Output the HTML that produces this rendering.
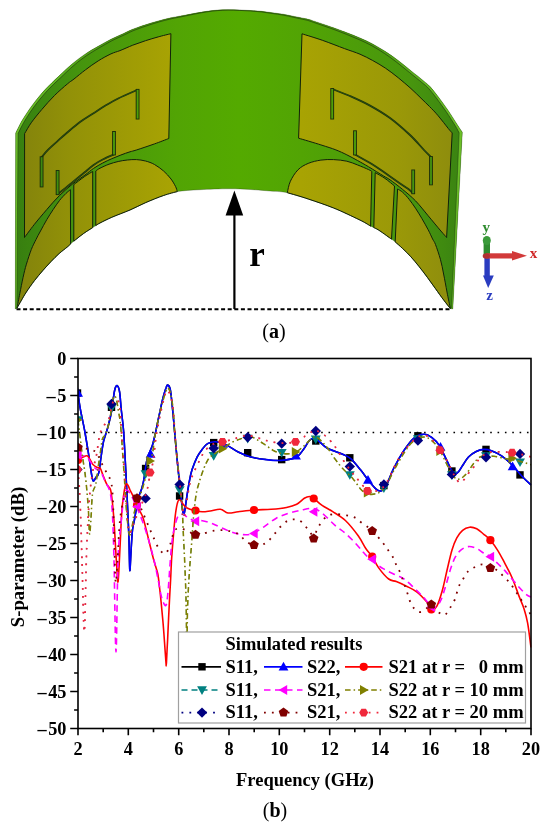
<!DOCTYPE html>
<html><head><meta charset="utf-8"><title>Figure</title>
<style>
html,body{margin:0;padding:0;background:#fff;}
body{width:550px;height:830px;overflow:hidden;font-family:"Liberation Serif",serif;}
svg{display:block;}
text{font-family:"Liberation Serif",serif;}
.b{font-weight:bold;}
</style></head><body>
<svg width="550" height="830" viewBox="0 0 550 830">
<defs>
<linearGradient id="gG" gradientUnits="userSpaceOnUse" x1="16" y1="0" x2="462" y2="0"><stop offset="0" stop-color="#377e10"/><stop offset="0.06" stop-color="#3d890f"/><stop offset="0.14" stop-color="#45940e"/><stop offset="0.36" stop-color="#52a404"/><stop offset="0.5" stop-color="#54aa00"/><stop offset="0.64" stop-color="#52a404"/><stop offset="0.88" stop-color="#48960e"/><stop offset="0.96" stop-color="#3f8a10"/><stop offset="1" stop-color="#3a8212"/></linearGradient>
<linearGradient id="gY" gradientUnits="userSpaceOnUse" x1="16" y1="0" x2="462" y2="0"><stop offset="0" stop-color="#82820c"/><stop offset="0.12" stop-color="#929108"/><stop offset="0.35" stop-color="#a8a303"/><stop offset="0.64" stop-color="#a8a303"/><stop offset="0.86" stop-color="#9a9808"/><stop offset="1" stop-color="#8c8b0e"/></linearGradient>
<linearGradient id="gR" gradientUnits="userSpaceOnUse" x1="16" y1="0" x2="462" y2="0"><stop offset="0" stop-color="#6cc028"/><stop offset="0.1" stop-color="#5eb220"/><stop offset="0.22" stop-color="#4b9812"/><stop offset="0.8" stop-color="#4b9812"/><stop offset="0.9" stop-color="#5eb220"/><stop offset="1" stop-color="#6cc028"/></linearGradient>
</defs>
<g id="antenna" stroke-linejoin="round">
<path d="M15.7 133 C16.9 130.8 19.8 124.4 22.7 119.6 C25.6 114.8 29.1 109.5 32.9 104.4 C36.7 99.3 41.4 93.7 45.6 89.1 C49.9 84.5 53.9 80.9 58.4 76.6 C62.9 72.3 68.2 67.3 72.7 63.5 C77.2 59.7 81.2 56.8 85.5 53.9 C89.8 51 94 48.7 98.2 46.3 C102.4 43.9 106.7 41.4 110.9 39.3 C115.1 37.2 120 35.2 123.6 33.5 C127.2 31.8 129 30.8 132.7 29.3 C136.3 27.9 141.2 26.2 145.5 24.8 C149.8 23.4 154 22.2 158.2 21 C162.4 19.8 166.4 18.8 170.9 17.8 C175.4 16.8 180.8 16 185 15.2 C189.2 14.4 192.3 13.8 195.9 13.1 C199.5 12.4 203.2 11.8 206.8 11.3 C210.4 10.8 214.2 10.3 217.7 10.1 C221.2 9.8 224.4 9.8 228 9.8 C231.6 9.8 235.8 9.9 239.5 10 C243.2 10.1 246.8 10.3 250.5 10.5 C254.2 10.7 257.8 10.9 261.4 11.3 C265 11.7 268.7 12.2 272.3 12.7 C275.9 13.2 279.6 13.6 283.2 14.2 C286.8 14.8 290.5 15.7 294.1 16.4 C297.7 17.1 302.1 17.9 305 18.6 C307.9 19.3 307 18.9 311.8 20.4 C316.6 21.9 327.7 25.7 333.6 27.8 C339.5 29.9 342.6 31.1 347 32.8 C351.4 34.5 355.7 36.1 360 38 C364.3 39.9 368.4 41.7 372.7 44 C376.9 46.3 381.2 48.9 385.5 51.6 C389.8 54.4 394 57.3 398.2 60.5 C402.4 63.7 406.7 67.3 410.9 70.7 C415.1 74.1 420.4 78.2 423.6 80.9 C426.8 83.6 427.6 84 430 86.6 C432.4 89.2 435.1 92.7 438.2 96.7 C441.2 100.7 445.1 106 448.3 110.7 C451.5 115.4 455 121.1 457.3 124.7 C459.6 128.3 461.5 131 462.3 132.3 L452.8 308.9 L450.4 308.6 C449.3 307.2 446.3 303.5 443.8 300.2 C441.3 296.9 438.2 292.5 435.5 288.7 C432.8 284.9 430 281 427.3 277.3 C424.6 273.6 421.8 270 419.1 266.6 C416.4 263.2 413.6 259.8 410.9 256.8 C408.2 253.8 405.4 251.2 402.7 248.6 C400 246 397.2 243.5 394.5 241.3 C391.8 239.1 389.1 237.4 386.4 235.5 C383.7 233.6 380.9 231.4 378.2 229.8 C375.5 228.2 373.2 227.4 370 225.7 C366.8 224 365.1 222.5 359 219.6 C352.9 216.7 342.1 211.4 333.6 208 C325.1 204.6 315.9 201.6 308.2 199 C300.5 196.4 293.7 194 287.3 192.7 C280.9 191.4 278.7 191.7 270 191 C261.3 190.3 246.7 189 235 188.8 C223.3 188.6 209.6 189.2 200 189.7 C190.4 190.2 183.4 190.6 177.3 191.6 C171.2 192.6 168.9 193.7 163.6 195.5 C158.3 197.3 151.1 200.3 145.5 202.7 C139.9 205.1 135.6 207.6 130 210 C124.4 212.4 116.8 215.1 111.8 217.3 C106.8 219.5 102.8 221.6 100 223 C97.2 224.4 97.8 224.2 95.1 226 C92.4 227.8 87.4 230.8 83.6 233.5 C79.8 236.2 74.9 240.2 72.2 242.5 C69.5 244.8 69.5 245.2 67.3 247 C65.1 248.8 61.8 251.2 59.1 253.6 C56.4 256.1 53.6 258.8 50.9 261.7 C48.2 264.6 45.4 267.5 42.7 270.7 C40 273.9 37.2 277.1 34.5 280.6 C31.8 284.2 28.6 288.7 26.4 292 C24.2 295.3 23 297.6 21.5 300.2 C20 302.8 17.9 306.5 17.2 307.8 L15.3 308.9 Z" fill="url(#gG)"/>
<path d="M15.7 133 C16.9 130.8 19.8 124.4 22.7 119.6 C25.6 114.8 29.1 109.5 32.9 104.4 C36.7 99.3 41.4 93.7 45.6 89.1 C49.9 84.5 53.9 80.9 58.4 76.6 C62.9 72.3 68.2 67.3 72.7 63.5 C77.2 59.7 81.2 56.8 85.5 53.9 C89.8 51 94 48.7 98.2 46.3 C102.4 43.9 106.7 41.4 110.9 39.3 C115.1 37.2 120 35.2 123.6 33.5 C127.2 31.8 129 30.8 132.7 29.3 C136.3 27.9 141.2 26.2 145.5 24.8 C149.8 23.4 154 22.2 158.2 21 C162.4 19.8 166.4 18.8 170.9 17.8 C175.4 16.8 180.8 16 185 15.2 C189.2 14.4 192.3 13.8 195.9 13.1 C199.5 12.4 203.2 11.8 206.8 11.3 C210.4 10.8 214.2 10.3 217.7 10.1 C221.2 9.8 224.4 9.8 228 9.8 C231.6 9.8 235.8 9.9 239.5 10 C243.2 10.1 246.8 10.3 250.5 10.5 C254.2 10.7 257.8 10.9 261.4 11.3 C265 11.7 268.7 12.2 272.3 12.7 C275.9 13.2 279.6 13.6 283.2 14.2 C286.8 14.8 290.5 15.7 294.1 16.4 C297.7 17.1 302.1 17.9 305 18.6 C307.9 19.3 307 18.9 311.8 20.4 C316.6 21.9 327.7 25.7 333.6 27.8 C339.5 29.9 342.6 31.1 347 32.8 C351.4 34.5 355.7 36.1 360 38 C364.3 39.9 368.4 41.7 372.7 44 C376.9 46.3 381.2 48.9 385.5 51.6 C389.8 54.4 394 57.3 398.2 60.5 C402.4 63.7 406.7 67.3 410.9 70.7 C415.1 74.1 420.4 78.2 423.6 80.9 C426.8 83.6 427.6 84 430 86.6 C432.4 89.2 435.1 92.7 438.2 96.7 C441.2 100.7 445.1 106 448.3 110.7 C451.5 115.4 455 121.1 457.3 124.7 C459.6 128.3 461.5 131 462.3 132.3 L452.8 308.9 L451.6 308.9 L459.2 133 C458.6 131.8 457.5 129.5 455.4 126 C453.2 122.5 449.6 116.6 446.4 112 C443.2 107.4 439.4 102.1 436.4 98.1 C433.4 94.1 430.7 90.7 428.3 88.2 C425.9 85.6 425.3 85.3 422.1 82.7 C419 80.1 413.7 75.9 409.5 72.5 C405.2 69.1 401 65.5 396.8 62.3 C392.7 59.1 388.5 56.1 384.4 53.4 C380.2 50.6 376 48 371.8 45.7 C367.6 43.4 363.5 41.6 359.3 39.7 C355 37.8 350.8 36.1 346.4 34.3 C342 32.6 338.9 31.3 333.1 29.2 C327.3 27.1 316.1 23.2 311.4 21.6 C306.7 20 307.7 20.4 304.7 19.7 C301.8 19 297.5 18.2 293.9 17.4 C290.3 16.6 286.7 15.7 283 15.1 C279.4 14.4 275.8 14 272.2 13.5 C268.6 12.9 265 12.4 261.3 11.9 C257.7 11.5 254.1 11.3 250.5 11 C246.8 10.8 243.2 10.5 239.5 10.4 C235.7 10.2 231.6 10.1 228 10.1 C224.4 10.2 221.3 10.3 217.7 10.6 C214.2 10.9 210.5 11.3 206.9 11.9 C203.3 12.4 199.6 13.1 196 13.8 C192.4 14.5 189.3 15.2 185.2 16 C181 16.9 175.6 17.8 171.1 18.8 C166.7 19.8 162.7 20.9 158.5 22.1 C154.3 23.3 150.1 24.6 145.9 26.1 C141.7 27.5 136.9 29.2 133.2 30.7 C129.6 32.1 127.9 33.2 124.3 34.9 C120.7 36.6 115.9 38.7 111.7 40.8 C107.5 43 103.3 45.5 99.1 47.9 C95 50.4 90.8 52.7 86.6 55.6 C82.5 58.5 78.5 61.4 74.1 65.2 C69.7 68.9 64.4 74 60 78.3 C55.5 82.5 51.5 86.1 47.3 90.7 C43.1 95.2 38.5 100.8 34.7 105.8 C31 110.8 27.5 116.1 24.7 120.8 C21.9 125.4 19.1 131.5 18 133.6 L16.8 308.9 L15.3 308.9 Z" fill="url(#gR)"/>
<path d="M18 133.6 C19.1 131.5 21.9 125.4 24.7 120.8 C27.5 116.1 31 110.8 34.7 105.8 C38.5 100.8 43.1 95.2 47.3 90.7 C51.5 86.1 55.5 82.5 60 78.3 C64.4 74 69.7 68.9 74.1 65.2 C78.5 61.4 82.5 58.5 86.6 55.6 C90.8 52.7 95 50.4 99.1 47.9 C103.3 45.5 107.5 43 111.7 40.8 C115.9 38.7 120.7 36.6 124.3 34.9 C127.9 33.2 129.6 32.1 133.2 30.7 C136.9 29.2 141.7 27.5 145.9 26.1 C150.1 24.6 154.3 23.3 158.5 22.1 C162.7 20.9 166.7 19.8 171.1 18.8 C175.6 17.8 181 16.9 185.2 16 C189.3 15.2 192.4 14.5 196 13.8 C199.6 13.1 203.3 12.4 206.9 11.9 C210.5 11.3 214.2 10.9 217.7 10.6 C221.3 10.3 224.4 10.2 228 10.1 C231.6 10.1 235.7 10.2 239.5 10.4 C243.2 10.5 246.8 10.8 250.5 11 C254.1 11.3 257.7 11.5 261.3 11.9 C265 12.4 268.6 12.9 272.2 13.5 C275.8 14 279.4 14.4 283 15.1 C286.7 15.7 290.3 16.6 293.9 17.4 C297.5 18.2 301.8 19 304.7 19.7 C307.7 20.4 306.7 20 311.4 21.6 C316.1 23.2 327.3 27.1 333.1 29.2 C338.9 31.3 342 32.6 346.4 34.3 C350.8 36.1 355 37.8 359.3 39.7 C363.5 41.6 367.6 43.4 371.8 45.7 C376 48 380.2 50.6 384.4 53.4 C388.5 56.1 392.7 59.1 396.8 62.3 C401 65.5 405.2 69.1 409.5 72.5 C413.7 75.9 419 80.1 422.1 82.7 C425.3 85.3 425.9 85.6 428.3 88.2 C430.7 90.7 433.4 94.1 436.4 98.1 C439.4 102.1 443.2 107.4 446.4 112 C449.6 116.6 453.2 122.5 455.4 126 C457.5 129.5 458.6 131.8 459.2 133" fill="none" stroke="#11220a" stroke-width="0.7" opacity="0.75"/>
<path d="M18 133.6 L16.8 308" fill="none" stroke="#11220a" stroke-width="0.6" opacity="0.6"/>
<path d="M459.2 133 L451.6 308" fill="none" stroke="#11220a" stroke-width="0.6" opacity="0.6"/>
<path d="M24.6 133.6 C25.8 131.7 28.7 126.2 31.6 122.2 C34.5 118.2 38 114 41.8 109.5 C45.6 105 50.2 99.8 54.5 95.5 C58.8 91.2 64 86.8 67.3 84 C70.5 81.2 71 81.4 74 79 C77 76.6 81.5 72.8 85.5 69.8 C89.5 66.8 94 63.5 98.2 60.9 C102.4 58.2 107.3 55.6 110.9 53.9 C114.5 52.2 116.4 52 120 50.6 C123.6 49.2 128.4 46.9 132.7 45.2 C136.9 43.6 141.2 42.1 145.5 40.7 C149.8 39.3 154 38.1 158.2 36.9 C162.4 35.7 168.8 34.2 170.9 33.7 L168.8 138.5 C166.4 139.4 159.9 142 154.5 143.9 C149.1 145.8 140.5 148.7 136.4 150 C132.3 151.3 132.6 151 130 151.8 C127.4 152.6 123.9 153.8 120.9 155 C117.9 156.2 114.8 157.4 111.8 158.7 C108.8 160 105.7 161.4 102.7 163 C99.7 164.6 96.5 166.4 93.6 168.4 C90.6 170.4 88.5 172.4 85 175 C81.5 177.6 76.5 180.8 72.3 184.2 C68 187.6 63.8 191.3 59.5 195.5 C55.2 199.7 51 204.6 46.8 209.5 C42.6 214.4 37.8 220 34.1 224.7 C30.4 229.4 26.1 235.4 24.5 237.5 Z" fill="url(#gY)" stroke="#11220a" stroke-width="1"/>
<path d="M302 33.8 C305.4 34.9 315.6 37.9 322.7 40.4 C329.8 42.9 338.3 46.3 344.5 48.6 C350.7 50.9 355.3 52.2 360 54.2 C364.7 56.2 368.4 58.2 372.7 60.5 C376.9 62.8 381.2 65.3 385.5 68.2 C389.8 71.1 394 74.3 398.2 77.7 C402.4 81.1 407.1 85.1 410.9 88.5 C414.7 91.9 417.9 95.2 421 98.2 C424.1 101.2 426.6 103.6 429.5 106.5 C432.4 109.4 435.1 112.1 438.2 115.8 C441.3 119.5 446 125.6 448.3 128.5 C450.6 131.4 451.6 132.2 452.2 133 L446.6 237.5 C445.7 236.4 444 234.6 440.9 231 C437.8 227.4 432.4 220.8 428.2 215.8 C424 210.8 419.8 205.2 415.5 200.8 C411.2 196.4 406.9 193 402.7 189.5 C398.4 186 393.2 182.1 390 179.8 C386.8 177.6 387.2 178.2 383.6 176 C380 173.8 372.9 169.4 368.6 166.8 C364.3 164.2 361.3 162.6 357.7 160.6 C354.1 158.6 350.4 156.6 346.8 154.8 C343.2 153 340.2 151.6 335.9 149.9 C331.6 148.2 327.1 146.9 320.9 144.9 C314.7 142.9 302.3 139.3 298.6 138.2 Z" fill="url(#gY)" stroke="#11220a" stroke-width="1"/>
<path d="M17.2 307.8 C17.6 305.4 18.8 298.7 19.8 293.6 C20.8 288.5 22 282.2 23.1 277.3 C24.2 272.4 25 268.8 26.4 264.2 C27.8 259.6 29.7 253.6 31.3 249.5 C32.9 245.4 34.5 242.6 36 239.5 C37.5 236.4 38.7 234.3 40.5 231 C42.3 227.7 44.7 223.2 46.8 219.6 C48.9 216 51.1 212.7 53.2 209.5 C55.3 206.3 57.4 203.2 59.5 200.5 C61.6 197.8 64.1 195.3 65.9 193.5 C67.7 191.7 69.7 190.3 70.4 189.7 L70.6 244 C70 244.5 69.2 245.4 67.3 247 C65.4 248.6 61.8 251.2 59.1 253.6 C56.4 256.1 53.6 258.8 50.9 261.7 C48.2 264.6 45.4 267.5 42.7 270.7 C40 273.9 37.2 277.1 34.5 280.6 C31.8 284.2 28.6 288.7 26.4 292 C24.2 295.3 23 297.6 21.5 300.2 C20 302.8 17.9 306.5 17.2 307.8 Z" fill="url(#gY)" stroke="#11220a" stroke-width="1"/>
<path d="M73.8 184.6 C75.6 183.3 81.3 178.8 84.5 176.6 C87.7 174.4 91.3 172.3 92.7 171.5 L92.7 227.6 C91.2 228.6 86.8 231.2 83.6 233.5 C80.4 235.8 75.4 239.9 73.8 241.2 Z" fill="url(#gY)" stroke="#11220a" stroke-width="1"/>
<path d="M95.8 171 C96.5 170.5 97.8 169.3 100 168.2 C102.2 167.1 106 165.3 109 164.2 C112 163.1 115.2 162.2 118.2 161.5 C121.2 160.8 124.3 160.3 127.3 160 C130.3 159.7 133.4 159.4 136.4 159.6 C139.4 159.8 142.5 160.2 145.5 161 C148.5 161.8 151.5 162.8 154.5 164.5 C157.5 166.2 160.8 168.6 163.6 171 C166.3 173.4 169 176.4 171 179 C173 181.6 174.4 184.3 175.5 186.4 C176.6 188.5 177 190.7 177.3 191.6 C175 192.2 168.9 193.7 163.6 195.5 C158.3 197.3 151.1 200.3 145.5 202.7 C139.9 205.1 135.6 207.6 130 210 C124.4 212.4 116.8 215.1 111.8 217.3 C106.8 219.5 102.7 221.6 100 223 C97.3 224.4 96.5 225.1 95.8 225.6 Z" fill="url(#gY)" stroke="#11220a" stroke-width="1"/>
<path d="M287.3 192.7 C287.8 190.8 288.6 185 290.4 181.2 C292.2 177.4 295 172.8 298 169.8 C301 166.8 304.4 165 308.2 163.4 C312 161.8 316.7 160.7 320.9 160.1 C325.1 159.5 329.3 159.4 333.6 159.6 C337.9 159.8 342.8 160.3 346.8 161.2 C350.8 162.1 354.1 163.6 357.7 165 C361.3 166.4 366.2 168.5 368.6 169.6 C371 170.7 371.3 171.1 371.8 171.4 L370.6 226 C370.5 225.9 371.9 226.8 370 225.7 C368.1 224.6 365.1 222.5 359 219.6 C352.9 216.7 342.1 211.4 333.6 208 C325.1 204.6 315.9 201.6 308.2 199 C300.5 196.4 290.8 193.8 287.3 192.7 Z" fill="url(#gY)" stroke="#11220a" stroke-width="1"/>
<path d="M375.2 172.6 C376.8 173.6 381.8 176.2 385 178.4 C388.2 180.6 392.9 184.7 394.5 186 L391.5 239.2 C390.6 238.5 388.6 237.1 386.4 235.5 C384.2 233.9 380.3 231.1 378.2 229.8 C376.1 228.5 374.5 228 373.8 227.6 Z" fill="url(#gY)" stroke="#11220a" stroke-width="1"/>
<path d="M397.6 189 C398.5 189.6 400.8 190.6 402.7 192.3 C404.6 194 407 196.7 409.1 199.3 C411.2 202 413.4 205 415.5 208.2 C417.6 211.4 419.7 214.8 421.8 218.4 C423.9 222 426.4 226.4 428.2 229.8 C430 233.2 431.4 236.6 432.6 239 C433.8 241.4 434.2 241.1 435.5 244.5 C436.8 247.9 439 254.4 440.4 259.3 C441.8 264.2 442.5 268.6 443.6 274 C444.7 279.4 445.9 286.2 447 292 C448.1 297.8 449.8 305.8 450.4 308.6 C449.3 307.2 446.3 303.5 443.8 300.2 C441.3 296.9 438.2 292.5 435.5 288.7 C432.8 284.9 430 281 427.3 277.3 C424.6 273.6 421.8 270 419.1 266.6 C416.4 263.2 413.6 259.8 410.9 256.8 C408.2 253.8 405.3 251.1 402.7 248.6 C400.1 246.1 396.4 243 395.2 241.9 L397.6 189 Z" fill="url(#gY)" stroke="#11220a" stroke-width="1"/>
<path d="M137.6 89.8 C134.4 91.2 123.5 95.9 118.2 98.5 C112.9 101.1 109.8 103 105.5 105.5 C101.2 108 97 111 92.7 113.7 C88.5 116.5 84.4 118.8 80 122 C75.6 125.2 70.2 130 66.4 133.2 C62.6 136.4 60.3 138.6 57.3 141.3 C54.3 144.1 50.8 147 48.2 149.7 C45.6 152.3 42.7 155.9 41.6 157.2" fill="none" stroke="#1c300c" stroke-width="1.8"/>
<path d="M137.6 89.8 C134.4 91.2 123.5 95.9 118.2 98.5 C112.9 101.1 109.8 103 105.5 105.5 C101.2 108 97 111 92.7 113.7 C88.5 116.5 84.4 118.8 80 122 C75.6 125.2 70.2 130 66.4 133.2 C62.6 136.4 60.3 138.6 57.3 141.3 C54.3 144.1 50.8 147 48.2 149.7 C45.6 152.3 42.7 155.9 41.6 157.2" fill="none" stroke="#3a7012" stroke-width="0.45"/>
<path d="M137.6 88.9 V119.5" fill="none" stroke="#1a2e0a" stroke-width="3.8"/>
<path d="M137.6 89.8 V118.6" fill="none" stroke="url(#gG)" stroke-width="1.9"/>
<path d="M41.6 156.3 V187.4" fill="none" stroke="#1a2e0a" stroke-width="3.8"/>
<path d="M41.6 157.2 V186.5" fill="none" stroke="url(#gG)" stroke-width="1.9"/>
<path d="M114 154.5 C112.1 155.3 106.1 157.8 102.7 159.5 C99.3 161.2 96.5 162.9 93.6 165 C90.6 167.1 87.5 169.9 85 172 C82.5 174.1 80.7 175.6 78.6 177.3 C76.5 179.1 74.4 180.8 72.3 182.5 C70.2 184.2 68.4 185.7 65.9 187.6 C63.5 189.5 59 193.1 57.6 194.2" fill="none" stroke="#1c300c" stroke-width="1.8"/>
<path d="M114 154.5 C112.1 155.3 106.1 157.8 102.7 159.5 C99.3 161.2 96.5 162.9 93.6 165 C90.6 167.1 87.5 169.9 85 172 C82.5 174.1 80.7 175.6 78.6 177.3 C76.5 179.1 74.4 180.8 72.3 182.5 C70.2 184.2 68.4 185.7 65.9 187.6 C63.5 189.5 59 193.1 57.6 194.2" fill="none" stroke="#3a7012" stroke-width="0.45"/>
<path d="M114 155.4 V131" fill="none" stroke="#1a2e0a" stroke-width="3.8"/>
<path d="M114 154.5 V131.9" fill="none" stroke="url(#gG)" stroke-width="1.9"/>
<path d="M57.6 195.1 V170" fill="none" stroke="#1a2e0a" stroke-width="3.8"/>
<path d="M57.6 194.2 V170.9" fill="none" stroke="url(#gG)" stroke-width="1.9"/>
<path d="M332.2 89 C335.2 90.2 343.7 93.2 350 96 C356.3 98.8 363.3 101.9 370 105.6 C376.7 109.3 383.3 113.1 390 118 C396.7 122.9 404.3 129.7 410 135 C415.7 140.3 420.5 146.3 424 150 C427.5 153.7 429.8 155.8 431 157" fill="none" stroke="#1c300c" stroke-width="1.8"/>
<path d="M332.2 89 C335.2 90.2 343.7 93.2 350 96 C356.3 98.8 363.3 101.9 370 105.6 C376.7 109.3 383.3 113.1 390 118 C396.7 122.9 404.3 129.7 410 135 C415.7 140.3 420.5 146.3 424 150 C427.5 153.7 429.8 155.8 431 157" fill="none" stroke="#3a7012" stroke-width="0.45"/>
<path d="M332.2 88.1 V119.5" fill="none" stroke="#1a2e0a" stroke-width="3.8"/>
<path d="M332.2 89 V118.6" fill="none" stroke="url(#gG)" stroke-width="1.9"/>
<path d="M431 156.1 V185.3" fill="none" stroke="#1a2e0a" stroke-width="3.8"/>
<path d="M431 157 V184.4" fill="none" stroke="url(#gG)" stroke-width="1.9"/>
<path d="M355 154.5 C357.8 156.1 366.9 161 371.8 164 C376.7 167 380.3 169.7 384.5 172.6 C388.7 175.5 393.3 178.8 397.2 181.5 C401.1 184.2 405.3 186.8 408 188.8 C410.7 190.8 412.3 192.6 413.2 193.3" fill="none" stroke="#1c300c" stroke-width="1.8"/>
<path d="M355 154.5 C357.8 156.1 366.9 161 371.8 164 C376.7 167 380.3 169.7 384.5 172.6 C388.7 175.5 393.3 178.8 397.2 181.5 C401.1 184.2 405.3 186.8 408 188.8 C410.7 190.8 412.3 192.6 413.2 193.3" fill="none" stroke="#3a7012" stroke-width="0.45"/>
<path d="M355 155.4 V130.3" fill="none" stroke="#1a2e0a" stroke-width="3.8"/>
<path d="M355 154.5 V131.2" fill="none" stroke="url(#gG)" stroke-width="1.9"/>
<path d="M413.2 194.2 V169.5" fill="none" stroke="#1a2e0a" stroke-width="3.8"/>
<path d="M413.2 193.3 V170.4" fill="none" stroke="url(#gG)" stroke-width="1.9"/>
<path d="M15.7 133 C16.9 130.8 19.8 124.4 22.7 119.6 C25.6 114.8 29.1 109.5 32.9 104.4 C36.7 99.3 41.4 93.7 45.6 89.1 C49.9 84.5 53.9 80.9 58.4 76.6 C62.9 72.3 68.2 67.3 72.7 63.5 C77.2 59.7 81.2 56.8 85.5 53.9 C89.8 51 94 48.7 98.2 46.3 C102.4 43.9 106.7 41.4 110.9 39.3 C115.1 37.2 120 35.2 123.6 33.5 C127.2 31.8 129 30.8 132.7 29.3 C136.3 27.9 141.2 26.2 145.5 24.8 C149.8 23.4 154 22.2 158.2 21 C162.4 19.8 166.4 18.8 170.9 17.8 C175.4 16.8 180.8 16 185 15.2 C189.2 14.4 192.3 13.8 195.9 13.1 C199.5 12.4 203.2 11.8 206.8 11.3 C210.4 10.8 214.2 10.3 217.7 10.1 C221.2 9.8 224.4 9.8 228 9.8 C231.6 9.8 235.8 9.9 239.5 10 C243.2 10.1 246.8 10.3 250.5 10.5 C254.2 10.7 257.8 10.9 261.4 11.3 C265 11.7 268.7 12.2 272.3 12.7 C275.9 13.2 279.6 13.6 283.2 14.2 C286.8 14.8 290.5 15.7 294.1 16.4 C297.7 17.1 302.1 17.9 305 18.6 C307.9 19.3 307 18.9 311.8 20.4 C316.6 21.9 327.7 25.7 333.6 27.8 C339.5 29.9 342.6 31.1 347 32.8 C351.4 34.5 355.7 36.1 360 38 C364.3 39.9 368.4 41.7 372.7 44 C376.9 46.3 381.2 48.9 385.5 51.6 C389.8 54.4 394 57.3 398.2 60.5 C402.4 63.7 406.7 67.3 410.9 70.7 C415.1 74.1 420.4 78.2 423.6 80.9 C426.8 83.6 427.6 84 430 86.6 C432.4 89.2 435.1 92.7 438.2 96.7 C441.2 100.7 445.1 106 448.3 110.7 C451.5 115.4 455 121.1 457.3 124.7 C459.6 128.3 461.5 131 462.3 132.3 L452.8 308.9 L450.4 308.6 C449.3 307.2 446.3 303.5 443.8 300.2 C441.3 296.9 438.2 292.5 435.5 288.7 C432.8 284.9 430 281 427.3 277.3 C424.6 273.6 421.8 270 419.1 266.6 C416.4 263.2 413.6 259.8 410.9 256.8 C408.2 253.8 405.4 251.2 402.7 248.6 C400 246 397.2 243.5 394.5 241.3 C391.8 239.1 389.1 237.4 386.4 235.5 C383.7 233.6 380.9 231.4 378.2 229.8 C375.5 228.2 373.2 227.4 370 225.7 C366.8 224 365.1 222.5 359 219.6 C352.9 216.7 342.1 211.4 333.6 208 C325.1 204.6 315.9 201.6 308.2 199 C300.5 196.4 293.7 194 287.3 192.7 C280.9 191.4 278.7 191.7 270 191 C261.3 190.3 246.7 189 235 188.8 C223.3 188.6 209.6 189.2 200 189.7 C190.4 190.2 183.4 190.6 177.3 191.6 C171.2 192.6 168.9 193.7 163.6 195.5 C158.3 197.3 151.1 200.3 145.5 202.7 C139.9 205.1 135.6 207.6 130 210 C124.4 212.4 116.8 215.1 111.8 217.3 C106.8 219.5 102.8 221.6 100 223 C97.2 224.4 97.8 224.2 95.1 226 C92.4 227.8 87.4 230.8 83.6 233.5 C79.8 236.2 74.9 240.2 72.2 242.5 C69.5 244.8 69.5 245.2 67.3 247 C65.1 248.8 61.8 251.2 59.1 253.6 C56.4 256.1 53.6 258.8 50.9 261.7 C48.2 264.6 45.4 267.5 42.7 270.7 C40 273.9 37.2 277.1 34.5 280.6 C31.8 284.2 28.6 288.7 26.4 292 C24.2 295.3 23 297.6 21.5 300.2 C20 302.8 17.9 306.5 17.2 307.8 L15.3 308.9 Z" fill="none" stroke="#11220a" stroke-width="0.5" opacity="0.55"/>
</g>
<line x1="16.5" y1="309.3" x2="452" y2="309.3" stroke="#000" stroke-width="2.1" stroke-dasharray="4 2.6"/>
<line x1="234.4" y1="309" x2="234.4" y2="212" stroke="#000" stroke-width="2.2"/>
<polygon points="234.4,190.5 243.2,215.6 225.6,215.6" fill="#000"/>
<text x="249.2" y="266.3" font-size="35" font-weight="bold">r</text>
<g id="triad">
<rect x="483.6" y="238" width="6.4" height="18" rx="2" fill="#2e8b2e"/>
<ellipse cx="486.8" cy="240.5" rx="4" ry="4.5" fill="#3a9a3a"/>
<rect x="484.4" y="257" width="5.4" height="20" fill="#2a3cc0"/>
<polygon points="483,275.5 493.8,275.5 488.2,288" fill="#2a3cc0"/>
<rect x="486" y="253.3" width="27" height="5.2" fill="#d23a3a"/>
<polygon points="512,251 527,255.8 512,260.6" fill="#d23a3a"/>
<ellipse cx="486.3" cy="256" rx="3.6" ry="2.8" fill="#b03030"/>
<text x="486.3" y="231.8" font-size="15" font-weight="bold" fill="#2e8b2e" text-anchor="middle">y</text>
<text x="533.6" y="257.8" font-size="15" font-weight="bold" fill="#d02828" text-anchor="middle">x</text>
<text x="489.7" y="299.8" font-size="15" font-weight="bold" fill="#2a3cc0" text-anchor="middle">z</text>
</g>
<text x="274" y="338" font-size="20" text-anchor="middle">(<tspan font-weight="bold">a</tspan>)</text>
<g id="chart">
<clipPath id="plotclip"><rect x="78.0" y="358.5" width="453.5" height="370.0"/></clipPath>
<line x1="78.0" y1="432.5" x2="531.0" y2="432.5" stroke="#000" stroke-width="1.6" stroke-dasharray="1.6 5.75" stroke-dashoffset="6.75"/>
<g id="series" clip-path="url(#plotclip)" stroke-linejoin="round">
<path d="M78 393 C78.4 395.8 79.3 403.5 80.5 410 C81.7 416.5 83.6 424.7 84.9 432 C86.2 439.3 87.4 446.6 88.5 453.6 C89.6 460.6 90.7 469.4 91.5 474 C92.3 478.6 92.5 480.4 93.2 481 C93.9 481.6 94.9 478.9 95.8 477.6 C96.7 476.3 97.8 476.3 98.7 473 C99.6 469.7 100.2 462.9 100.9 458 C101.6 453.1 102.4 447.2 103.1 443.5 C103.8 439.8 104.4 438.4 105.3 435.5 C106.2 432.6 107.1 430.2 108.2 426 C109.3 421.8 110.8 415.8 111.8 410 C112.8 404.2 113.6 395.1 114.5 391 C115.4 386.9 116.2 385.4 117 385.6 C117.8 385.8 118.9 387.9 119.6 392 C120.3 396.1 120.6 403.7 121.3 410 C122 416.3 122.9 422.7 123.5 430 C124.1 437.3 124.4 444.8 124.9 453.6 C125.4 462.4 125.9 473 126.4 482.7 C126.9 492.4 127.4 502.2 127.8 511.8 C128.2 521.4 128.7 530.2 129 540 C129.3 549.8 129.5 568.5 129.8 570.5 C130.1 572.5 130.6 558.8 131 552 C131.4 545.2 131.9 535.3 132.5 530 C133.1 524.7 133.7 523.7 134.4 520 C135.1 516.3 135.7 512 136.5 508 C137.3 504 138.2 499.2 139 496 C139.8 492.8 140.8 491.7 141.6 489 C142.4 486.3 143 484.5 143.8 479.8 C144.7 475.1 145.7 465.6 146.7 461 C147.7 456.4 148.6 454.9 149.6 452.2 C150.6 449.5 151.6 448 152.5 445 C153.4 442 154.1 438.8 155.2 434 C156.3 429.2 157.7 421.9 159 416 C160.3 410.1 161.7 403.1 162.9 398.3 C164.1 393.6 165.3 389.7 166.2 387.5 C167 385.3 167.3 384.6 168 385.1 C168.7 385.6 169.7 385.9 170.5 390.7 C171.3 395.4 172.3 406.4 173 413.6 C173.7 420.8 174 424.7 174.8 434 C175.7 443.3 177.2 461.1 178.1 469.6 C179 478.1 179.3 478.9 180 484.9 C180.7 490.9 181.3 500.5 182 505.4 C182.7 510.3 183.2 516.1 184 514.4 C184.8 512.7 186.1 501 187 495.3 C187.9 489.6 188.8 484.3 189.6 480 C190.4 475.7 190.8 473.5 192.1 469.6 C193.4 465.8 195.5 460.3 197.2 456.9 C198.9 453.5 200.6 451.4 202.3 449.2 C204 447 205.4 444.8 207.6 443.6 C209.8 442.4 212.3 441.7 215.3 441.8 C218.3 441.9 221.6 442.7 225.4 444.4 C229.2 446.1 233.9 449.9 238.2 452 C242.4 454.1 246.2 455.7 250.9 457 C255.6 458.3 261.1 459 266.2 459.6 C271.3 460.2 276.3 460.8 281.4 460.4 C286.5 460 292.9 459 296.7 457 C300.5 455 302.2 450.9 304.3 448.2 C306.4 445.4 307.7 442.2 309.4 440.5 C311.1 438.8 312.8 437.8 314.5 438 C316.2 438.2 317.5 440.1 319.6 441.8 C321.7 443.5 323.8 446.3 327.2 448.2 C330.6 450.1 336.3 451.6 340.2 453.3 C344.1 455 347 455.6 350.4 458.3 C353.8 461.1 357.5 466.2 360.5 469.8 C363.5 473.4 365.6 476.8 368.2 480 C370.8 483.2 373.7 487.1 375.8 488.9 C377.9 490.7 379.2 491.3 380.9 490.9 C382.6 490.5 383.9 490 386 486.3 C388.1 482.6 390.6 474.4 393.6 468.5 C396.6 462.6 400.4 455.8 403.8 450.7 C407.2 445.6 410.6 440.8 414 438 C417.4 435.2 421.1 434.3 424.1 434.2 C427.1 434.1 429.2 435.6 431.8 437.5 C434.4 439.4 436.9 441.7 439.4 445.6 C441.9 449.5 444.9 456.7 447 460.9 C449.1 465.1 450.4 469 452.1 471 C453.8 473 455.5 473.8 457.2 473 C458.9 472.2 460.4 468.7 462.3 466 C464.2 463.3 466.2 459.4 468.5 457 C470.8 454.6 473.6 452.8 476.2 451.5 C478.8 450.2 481.3 449.5 483.8 449.4 C486.3 449.3 488.4 449.6 491.4 450.7 C494.4 451.8 498.2 453.5 501.6 455.8 C505 458.1 508.4 461.3 511.8 464.7 C515.2 468.1 518.8 472.8 522 476.2 C525.2 479.6 529.5 483.5 531 485" fill="none" stroke="#000000" stroke-width="1.5"/>
<rect x="73.8" y="389.3" width="7.4" height="7.4" fill="#000000"/>
<rect x="107.8" y="403.6" width="7.4" height="7.4" fill="#000000"/>
<rect x="141.9" y="464.8" width="7.4" height="7.4" fill="#000000"/>
<rect x="175.9" y="492.3" width="7.4" height="7.4" fill="#000000"/>
<rect x="210" y="438.9" width="7.4" height="7.4" fill="#000000"/>
<rect x="244" y="449" width="7.4" height="7.4" fill="#000000"/>
<rect x="278" y="455.9" width="7.4" height="7.4" fill="#000000"/>
<rect x="312.1" y="437.3" width="7.4" height="7.4" fill="#000000"/>
<rect x="346.1" y="454.1" width="7.4" height="7.4" fill="#000000"/>
<rect x="380.2" y="481.9" width="7.4" height="7.4" fill="#000000"/>
<rect x="414.2" y="432.1" width="7.4" height="7.4" fill="#000000"/>
<rect x="448.2" y="467.3" width="7.4" height="7.4" fill="#000000"/>
<rect x="482.3" y="445.7" width="7.4" height="7.4" fill="#000000"/>
<rect x="516.3" y="471.2" width="7.4" height="7.4" fill="#000000"/>
<path d="M78 393 C78.4 395.8 79.3 403.5 80.5 410 C81.7 416.5 83.6 424.7 84.9 432 C86.2 439.3 87.4 446.6 88.5 453.6 C89.6 460.6 90.7 469.4 91.5 474 C92.3 478.6 92.5 480.4 93.2 481 C93.9 481.6 94.9 478.9 95.8 477.6 C96.7 476.3 97.8 476.3 98.7 473 C99.6 469.7 100.2 462.9 100.9 458 C101.6 453.1 102.4 447.2 103.1 443.5 C103.8 439.8 104.4 438.4 105.3 435.5 C106.2 432.6 107.1 430.2 108.2 426 C109.3 421.8 110.8 415.8 111.8 410 C112.8 404.2 113.6 395.1 114.5 391 C115.4 386.9 116.2 385.4 117 385.6 C117.8 385.8 118.9 387.9 119.6 392 C120.3 396.1 120.6 403.7 121.3 410 C122 416.3 122.9 422.7 123.5 430 C124.1 437.3 124.4 444.8 124.9 453.6 C125.4 462.4 125.9 473 126.4 482.7 C126.9 492.4 127.4 502.2 127.8 511.8 C128.2 521.4 128.7 530.2 129 540 C129.3 549.8 129.5 568.5 129.8 570.5 C130.1 572.5 130.6 558.8 131 552 C131.4 545.2 131.9 535.3 132.5 530 C133.1 524.7 133.7 523.7 134.4 520 C135.1 516.3 135.7 512 136.5 508 C137.3 504 138.2 499.2 139 496 C139.8 492.8 140.8 491.7 141.6 489 C142.4 486.3 143 484.5 143.8 479.8 C144.7 475.1 145.7 465.6 146.7 461 C147.7 456.4 148.6 454.9 149.6 452.2 C150.6 449.5 151.6 448 152.5 445 C153.4 442 154.1 438.8 155.2 434 C156.3 429.2 157.7 421.9 159 416 C160.3 410.1 161.7 403.1 162.9 398.3 C164.1 393.6 165.3 389.7 166.2 387.5 C167 385.3 167.3 384.6 168 385.1 C168.7 385.6 169.7 385.9 170.5 390.7 C171.3 395.4 172.3 406.4 173 413.6 C173.7 420.8 174 424.7 174.8 434 C175.7 443.3 177.2 461.1 178.1 469.6 C179 478.1 179.3 478.9 180 484.9 C180.7 490.9 181.3 500.5 182 505.4 C182.7 510.3 183.2 516.1 184 514.4 C184.8 512.7 186.1 501 187 495.3 C187.9 489.6 188.8 484.3 189.6 480 C190.4 475.7 190.8 473.5 192.1 469.6 C193.4 465.8 195.5 460.3 197.2 456.9 C198.9 453.5 200.6 451.4 202.3 449.2 C204 447 205.4 444.8 207.6 443.6 C209.8 442.4 212.3 441.7 215.3 441.8 C218.3 441.9 221.6 442.7 225.4 444.4 C229.2 446.1 233.9 449.9 238.2 452 C242.4 454.1 246.2 455.7 250.9 457 C255.6 458.3 261.1 459 266.2 459.6 C271.3 460.2 276.3 460.8 281.4 460.4 C286.5 460 292.9 459 296.7 457 C300.5 455 302.2 450.9 304.3 448.2 C306.4 445.4 307.7 442.2 309.4 440.5 C311.1 438.8 312.8 437.8 314.5 438 C316.2 438.2 317.5 440.1 319.6 441.8 C321.7 443.5 323.8 446.3 327.2 448.2 C330.6 450.1 336.3 451.6 340.2 453.3 C344.1 455 347 455.6 350.4 458.3 C353.8 461.1 357.5 466.2 360.5 469.8 C363.5 473.4 365.6 476.8 368.2 480 C370.8 483.2 373.7 487.1 375.8 488.9 C377.9 490.7 379.2 491.3 380.9 490.9 C382.6 490.5 383.9 490 386 486.3 C388.1 482.6 390.6 474.4 393.6 468.5 C396.6 462.6 400.4 455.8 403.8 450.7 C407.2 445.6 410.6 440.8 414 438 C417.4 435.2 421.1 434.3 424.1 434.2 C427.1 434.1 429.2 435.6 431.8 437.5 C434.4 439.4 436.9 441.7 439.4 445.6 C441.9 449.5 444.9 456.7 447 460.9 C449.1 465.1 450.4 469 452.1 471 C453.8 473 455.5 473.8 457.2 473 C458.9 472.2 460.4 468.7 462.3 466 C464.2 463.3 466.2 459.4 468.5 457 C470.8 454.6 473.6 452.8 476.2 451.5 C478.8 450.2 481.3 449.5 483.8 449.4 C486.3 449.3 488.4 449.6 491.4 450.7 C494.4 451.8 498.2 453.5 501.6 455.8 C505 458.1 508.4 461.3 511.8 464.7 C515.2 468.1 518.8 472.8 522 476.2 C525.2 479.6 529.5 483.5 531 485" fill="none" stroke="#0000ff" stroke-width="1.6"/>
<polygon points="78,388.1 83,396.7 73,396.7" fill="#0000ff"/>
<polygon points="150.6,449.1 155.5,457.7 145.7,457.7" fill="#0000ff"/>
<polygon points="223,439.1 227.9,447.7 218.1,447.7" fill="#0000ff"/>
<polygon points="296,450.9 300.9,459.5 291.1,459.5" fill="#0000ff"/>
<polygon points="368,475.1 372.9,483.7 363.1,483.7" fill="#0000ff"/>
<polygon points="440.5,442.1 445.4,450.7 435.6,450.7" fill="#0000ff"/>
<polygon points="512.6,461.6 517.6,470.2 507.7,470.2" fill="#0000ff"/>
<path d="M78 460.2 C78.8 459.7 81.2 458 82.7 457.3 C84.2 456.6 85.9 455.4 87.1 455.8 C88.3 456.2 89 458.1 90 459.5 C91 460.9 91.7 463.2 92.9 464.5 C94.1 465.8 96.1 466.9 97.3 467.5 C98.5 468.1 99.2 466.9 100.2 468.2 C101.2 469.5 102 472.8 103.1 475.5 C104.2 478.2 105.5 481.9 106.7 484.2 C107.9 486.5 109.5 486.8 110.4 489.3 C111.3 491.8 111.5 495.2 112 499 C112.5 502.8 112.8 506.5 113.3 512 C113.8 517.5 114.2 523.3 114.7 532 C115.2 540.7 116 555.7 116.6 564 C117.1 572.3 117.5 583.3 118 582 C118.5 580.7 119.1 565.3 119.6 556 C120.1 546.7 120.6 534.2 121 526 C121.4 517.8 121.7 512.8 122.2 507 C122.7 501.2 123.6 495.2 124.2 491.5 C124.8 487.8 125.2 485.6 125.8 484.5 C126.4 483.4 127.1 484 127.8 484.9 C128.5 485.8 129 487.9 130 490 C131 492.1 132.5 494.8 133.6 497.3 C134.7 499.8 135.7 502.8 136.7 505 C137.7 507.2 138.4 508.2 139.5 510.4 C140.6 512.6 142 514.7 143.1 518 C144.2 521.3 145.1 525.3 146.3 530 C147.5 534.7 148.9 540.8 150.2 546 C151.5 551.2 152.7 556.3 154 561 C155.3 565.7 156.9 569.5 157.8 574 C158.7 578.5 159 583.2 159.6 588 C160.2 592.8 160.7 597.7 161.2 603 C161.7 608.3 162.2 613.5 162.8 620 C163.4 626.5 164 634.8 164.5 642 C165 649.2 165.7 659.1 166 663 C166.3 666.9 166.1 665.8 166.2 665.6 C166.3 665.4 166.3 666.3 166.5 662 C166.7 657.7 167.2 647.3 167.6 640 C167.9 632.7 168.3 624.7 168.6 618 C168.9 611.3 169.2 606 169.5 600 C169.8 594 170.1 589.1 170.5 581.8 C170.9 574.5 171.2 564.5 171.8 556 C172.4 547.5 173.2 538.2 173.8 531 C174.4 523.8 174.9 518 175.6 513 C176.3 508 177.2 503.1 178.1 501 C178.9 498.9 179.8 499.9 180.7 500.4 C181.5 500.9 182.1 502.9 183.2 504.2 C184.2 505.5 185.1 506.9 187 508 C188.9 509.1 192.1 509.9 194.7 510.5 C197.2 511.1 199.7 511.7 202.3 511.8 C204.9 511.9 207.2 511.4 210.2 511 C213.2 510.6 217.4 509 220.4 509.3 C223.4 509.6 225 512.6 228 513 C231 513.4 233.9 512.3 238.2 511.8 C242.5 511.3 248.5 510.4 254 510 C259.5 509.6 265.8 509.7 271.2 509.3 C276.6 508.9 282.2 508.4 286.5 507.5 C290.8 506.6 293.7 505.7 296.7 504.2 C299.7 502.7 302.2 499.6 304.3 498.3 C306.4 497 307.8 496.5 309.4 496.5 C311 496.5 311.6 496.8 313.7 498.3 C315.8 499.8 318.9 503.2 322.1 505.4 C325.3 507.6 328.8 509.1 332.7 511.6 C336.6 514.1 341.1 516.5 345.4 520.5 C349.6 524.5 354.8 531.1 358.2 535.8 C361.6 540.5 363.5 545 365.8 548.5 C368.1 552 370.1 553.5 372.2 556.7 C374.3 559.9 375.8 563.9 378.5 567.6 C381.2 571.3 385.7 576.7 388.7 579 C391.7 581.3 393.3 580.4 396.3 581.6 C399.3 582.8 403.1 584.5 406.5 586.2 C409.9 587.9 413.3 589.2 416.7 591.8 C420.1 594.4 424.4 599.1 426.9 602 C429.4 604.9 429.8 608.4 431.5 609 C433.2 609.6 435.2 608.9 437 605.8 C438.8 602.7 440.6 596.5 442.3 590.5 C444 584.5 445.6 576.2 447.2 569.5 C448.8 562.8 450.4 555.3 452 550 C453.6 544.7 455 541.1 456.8 537.8 C458.6 534.5 460.5 532.1 462.6 530.3 C464.7 528.5 467.2 527.5 469.6 527.2 C472 527 474.3 527.6 476.7 528.8 C479.1 530 481.5 532.4 483.8 534.3 C486.1 536.2 488 537.5 490.4 540.2 C492.8 543 495.6 546.9 498 550.8 C500.4 554.7 502.7 559.3 505.1 563.8 C507.5 568.3 509.8 572.5 512.2 578 C514.6 583.5 517.3 591.8 519.3 596.9 C521.3 602 522.6 604.4 524 608.7 C525.4 613 526.4 616.4 527.6 622.9 C528.8 629.4 530.4 643.4 531 647.5" fill="none" stroke="#ff0000" stroke-width="1.6"/>
<circle cx="78" cy="460" r="4.1" fill="#ff0000"/>
<circle cx="137" cy="505" r="4.1" fill="#ff0000"/>
<circle cx="195.5" cy="510.5" r="4.1" fill="#ff0000"/>
<circle cx="254" cy="510" r="4.1" fill="#ff0000"/>
<circle cx="313.7" cy="498.5" r="4.1" fill="#ff0000"/>
<circle cx="372.2" cy="556.7" r="4.1" fill="#ff0000"/>
<circle cx="431.3" cy="609.5" r="4.1" fill="#ff0000"/>
<circle cx="490.4" cy="540.2" r="4.1" fill="#ff0000"/>
<path d="M78 420 C78.3 422.4 79 428.4 79.8 434.7 C80.6 441 81.8 451.6 82.7 458 C83.6 464.4 84.3 467.3 85 473 C85.7 478.7 86.4 485.5 87 492 C87.6 498.5 88.1 505 88.5 512 C88.9 519 89.2 533 89.6 534 C90 535 90.5 524.7 91 518 C91.5 511.3 91.7 499.7 92.5 494 C93.3 488.3 94.9 488.3 95.8 484 C96.7 479.7 97.3 473.1 98 468 C98.7 462.9 99.5 458.4 100.2 453.6 C100.9 448.8 101.6 442.1 102.4 439 C103.2 435.9 104.3 436.9 105.3 434.7 C106.3 432.5 107.3 429.1 108.2 426 C109.1 422.9 109.6 420.6 110.4 415.8 C111.2 411.1 112.4 400.5 113.3 397.5 C114.2 394.5 115.2 395.8 116 398 C116.8 400.2 117.7 406.6 118.4 411 C119.2 415.4 119.8 417.4 120.5 424.5 C121.2 431.6 122.1 445.1 122.7 453.6 C123.3 462.1 123.7 468.2 124.2 475.5 C124.7 482.8 125.1 490.2 125.6 497.3 C126.1 504.4 126.4 511.7 127.1 518 C127.8 524.3 128.7 533.7 129.5 535 C130.3 536.3 131.4 529.8 132.2 526 C133 522.2 133.4 516.3 134.4 512 C135.4 507.7 136.7 503.7 138 500 C139.3 496.3 140.8 493.6 142 490 C143.2 486.4 144 483.2 145.3 478.4 C146.6 473.6 148.4 465.1 149.6 461 C150.8 456.9 151.6 458.1 152.5 453.6 C153.4 449.1 154.1 440.3 155.2 434 C156.3 427.7 157.7 421.5 159 416 C160.3 410.5 161.7 405.2 162.9 401 C164.1 396.8 165.3 392.9 166.2 390.7 C167 388.5 167.3 387.6 168 388 C168.7 388.4 169.7 389.9 170.5 393.3 C171.3 396.7 172.3 401.7 173 408.5 C173.7 415.3 174.2 425.9 174.8 434 C175.5 442.1 176.2 449.7 176.9 456.9 C177.6 464.1 178.1 469.1 178.9 477.2 C179.8 485.3 181.3 496.4 182 505.4 C182.7 514.4 182.7 520.3 183.2 530.9 C183.7 541.5 184.5 556.3 185 569 C185.5 581.7 185.9 591.8 186.2 607 C186.5 622.2 186.6 660 186.8 660 C187 660 187.1 622.2 187.6 607 C188.1 591.8 188.9 579.6 189.6 569 C190.3 558.4 191 552.1 191.6 543.6 C192.2 535.1 192.7 526.2 193.4 518.2 C194.1 510.2 195.1 501.2 196 495.3 C196.9 489.4 197.7 487.5 199 483 C200.3 478.5 202.2 472.6 203.8 468.5 C205.5 464.4 207 460.8 208.9 458.3 C210.8 455.8 213 455 215.3 453.3 C217.6 451.6 220 450.1 222.9 448.2 C225.8 446.3 229.6 443.5 233 441.8 C236.4 440.1 240.3 438.9 243.3 438 C246.3 437.1 248.4 436.3 250.9 436.7 C253.4 437.1 255.9 439 258.5 440.5 C261.1 442 263.6 443.9 266.2 445.6 C268.8 447.3 271.3 449.4 273.8 450.7 C276.3 452 278.9 452.8 281.4 453.3 C283.9 453.8 286.5 454 289 453.8 C291.5 453.6 293.6 453.4 296.2 452 C298.8 450.6 301.9 447.7 304.3 445.6 C306.7 443.5 308.8 440.8 310.7 439.3 C312.6 437.8 313.9 436.3 315.8 436.7 C317.7 437.1 320 439.7 322.1 441.8 C324.2 443.9 326.4 446.5 328.5 449.4 C330.6 452.3 332.6 455.8 335 459 C337.4 462.2 339.7 465.2 342.7 468.5 C345.7 471.8 349.9 475.3 352.9 478.7 C355.9 482.1 358.2 486.3 360.5 488.9 C362.8 491.4 364.6 493.1 366.9 494 C369.2 494.9 372.2 494.4 374.5 494 C376.8 493.6 378.8 493.1 380.9 491.4 C383 489.7 385.1 487.2 387.2 483.8 C389.3 480.4 390.8 476.1 393.6 471 C396.4 465.9 400.8 458 403.8 453.3 C406.8 448.6 408.9 445.6 411.4 443 C413.9 440.4 416.4 438.9 419 438 C421.6 437.1 424.1 436.7 426.7 437.5 C429.2 438.3 432 440.6 434.3 443 C436.6 445.4 438.6 448.4 440.7 452 C442.8 455.6 444.9 460.7 447 464.7 C449.1 468.7 451.5 473.8 453.4 476.2 C455.3 478.6 456.8 479.1 458.5 479.2 C460.2 479.2 461.9 477.9 463.6 476.5 C465.3 475.1 466.8 473.2 468.5 471 C470.2 468.8 471.7 465.7 473.6 463.4 C475.5 461.1 477.9 458.3 480 457 C482.1 455.7 484 455.9 486.3 455.8 C488.6 455.7 491 455.9 494 456.3 C497 456.7 501.1 457.8 504.1 458.3 C507.1 458.9 508.8 459 511.8 459.6 C514.8 460.2 518.8 461.1 522 462 C525.2 462.9 529.5 464.2 531 464.7" fill="none" stroke="#008080" stroke-width="0.8" stroke-dasharray="5 3.6 0.9 3.6" stroke-dashoffset="-0.3"/>
<polygon points="77.5,424.9 82.5,416.3 72.5,416.3" fill="#008080"/>
<polygon points="111.5,412.9 116.5,404.3 106.6,404.3" fill="#008080"/>
<polygon points="145.6,478.9 150.5,470.3 140.6,470.3" fill="#008080"/>
<polygon points="179.6,494.9 184.6,486.3 174.7,486.3" fill="#008080"/>
<polygon points="213.7,460.8 218.6,452.1 208.7,452.1" fill="#008080"/>
<polygon points="247.7,443.4 252.6,434.8 242.8,434.8" fill="#008080"/>
<polygon points="281.7,457.6 286.7,449 276.8,449" fill="#008080"/>
<polygon points="315.8,444.2 320.7,435.6 310.8,435.6" fill="#008080"/>
<polygon points="349.8,479.8 354.8,471.2 344.9,471.2" fill="#008080"/>
<polygon points="383.9,492.9 388.8,484.3 378.9,484.3" fill="#008080"/>
<polygon points="417.9,443.9 422.8,435.3 412.9,435.3" fill="#008080"/>
<polygon points="451.9,479.9 456.9,471.3 447,471.3" fill="#008080"/>
<polygon points="486,460.9 490.9,452.3 481,452.3" fill="#008080"/>
<polygon points="520,467.1 525,458.5 515.1,458.5" fill="#008080"/>
<path d="M78 455 C79 455.2 82.3 455.5 84 456 C85.7 456.5 86.5 456.3 88 458 C89.5 459.7 91.5 464.1 93 466 C94.5 467.9 95.8 468.7 97 469.5 C98.2 470.3 99.2 469.1 100.5 471 C101.8 472.9 103.4 477.5 105 481 C106.6 484.5 108.8 486.8 110 492 C111.2 497.2 111.6 500.7 112.3 512 C113 523.3 113.4 536.7 114 560 C114.6 583.3 115.3 652 116 652 C116.7 652 117.2 581.5 118 560 C118.8 538.5 120 533.5 121 523 C122 512.5 123 502.5 124 497 C125 491.5 125.8 490.3 127 490 C128.2 489.7 129.4 492.2 131 495 C132.6 497.8 134.7 502.5 136.5 506.7 C138.3 510.9 140.1 514.8 142 520 C143.9 525.2 146 531.3 148 538 C150 544.7 152.3 553.2 154 560 C155.7 566.8 156.8 573.2 158 579 C159.2 584.8 160.1 591 161 595 C161.9 599 162.7 601.3 163.6 603 C164.5 604.7 165.5 606.8 166.2 605 C166.9 603.2 167.4 598 168 592 C168.6 586 169.1 577.1 169.7 569 C170.3 560.9 171 550.4 171.8 543.6 C172.6 536.8 173.2 532.9 174.3 528.3 C175.4 523.7 176.6 518.3 178.1 516 C179.6 513.7 181.7 514.2 183.2 514.4 C184.7 514.5 185 515.8 187 516.9 C189 518 192.6 520.6 195.2 521.2 C197.8 521.8 199.4 520.3 202.3 520.7 C205.2 521.1 208.8 522.3 212.7 523.8 C216.5 525.3 221.2 527.9 225.4 529.6 C229.7 531.3 233.9 533.1 238.2 533.9 C242.4 534.7 246.7 535.3 250.9 534.2 C255.1 533.1 259.4 529.8 263.6 527.1 C267.8 524.4 272.1 520.5 276.3 518.2 C280.6 515.9 284.9 514.5 289.1 513.1 C293.4 511.7 297.8 510.8 301.8 510 C305.8 509.2 309.8 508 313.2 508.5 C316.6 509 318.4 510.2 322.1 513.1 C325.8 516 331.4 522.2 335.3 525.6 C339.2 529 342 530.3 345.4 533.3 C348.8 536.3 352.6 540.2 355.6 543.4 C358.6 546.6 360.8 549.5 363.3 552.3 C365.9 555.1 367.5 557.2 370.9 560 C374.3 562.8 379.4 566.4 383.6 568.9 C387.8 571.4 392.9 573.5 396.3 575.2 C399.7 576.9 401 576.9 404 579 C407 581.1 410.7 584.8 414.1 588 C417.5 591.2 421.3 594.9 424.3 598.1 C427.3 601.4 429.9 606.2 432 607.5 C434.1 608.8 435.4 607.4 437 606 C438.6 604.6 439.8 602.8 441.3 599.3 C442.8 595.8 444.4 590.1 446 585 C447.6 579.9 449.1 573.3 450.7 568.6 C452.3 563.9 453.7 559.9 455.5 556.7 C457.3 553.5 459.2 551.3 461.4 549.6 C463.6 547.9 465.9 546.8 468.5 546.6 C471.1 546.4 474.1 547.4 476.7 548.5 C479.2 549.6 481.5 551.8 483.8 553.2 C486.1 554.6 488 554.9 490.4 556.7 C492.8 558.5 495.6 561.4 498 563.8 C500.4 566.2 502.7 568.3 505.1 570.9 C507.5 573.5 509.8 576.4 512.2 579.2 C514.6 582 516.9 584.9 519.3 587.5 C521.7 590.1 524.4 593 526.4 594.6 C528.4 596.2 530.2 596.6 531 597" fill="none" stroke="#ff00ff" stroke-width="1.6" stroke-dasharray="6.5 4.5"/>
<polygon points="73,455 81.7,450.1 81.7,459.9" fill="#ff00ff"/>
<polygon points="132.1,506.7 140.7,501.8 140.7,511.6" fill="#ff00ff"/>
<polygon points="190.6,521.2 199.2,516.2 199.2,526.2" fill="#ff00ff"/>
<polygon points="249.1,533.4 257.7,528.4 257.7,538.4" fill="#ff00ff"/>
<polygon points="308.8,511.8 317.4,506.9 317.4,516.8" fill="#ff00ff"/>
<polygon points="367.2,559.2 375.9,554.2 375.9,564.2" fill="#ff00ff"/>
<polygon points="426.4,607 435,602 435,612" fill="#ff00ff"/>
<polygon points="485.4,556.7 494.1,551.8 494.1,561.7" fill="#ff00ff"/>
<path d="M78 420 C78.3 422.4 79 428.4 79.8 434.7 C80.6 441 81.8 451.6 82.7 458 C83.6 464.4 84.3 467.3 85 473 C85.7 478.7 86.4 485.5 87 492 C87.6 498.5 88.1 505 88.5 512 C88.9 519 89.2 533 89.6 534 C90 535 90.5 524.7 91 518 C91.5 511.3 91.7 499.7 92.5 494 C93.3 488.3 94.9 488.3 95.8 484 C96.7 479.7 97.3 473.1 98 468 C98.7 462.9 99.5 458.4 100.2 453.6 C100.9 448.8 101.6 442.1 102.4 439 C103.2 435.9 104.3 436.9 105.3 434.7 C106.3 432.5 107.3 429.1 108.2 426 C109.1 422.9 109.6 420.6 110.4 415.8 C111.2 411.1 112.4 400.5 113.3 397.5 C114.2 394.5 115.2 395.8 116 398 C116.8 400.2 117.7 406.6 118.4 411 C119.2 415.4 119.8 417.4 120.5 424.5 C121.2 431.6 122.1 445.1 122.7 453.6 C123.3 462.1 123.7 468.2 124.2 475.5 C124.7 482.8 125.1 490.2 125.6 497.3 C126.1 504.4 126.4 511.7 127.1 518 C127.8 524.3 128.7 533.7 129.5 535 C130.3 536.3 131.4 529.8 132.2 526 C133 522.2 133.4 516.3 134.4 512 C135.4 507.7 136.7 503.7 138 500 C139.3 496.3 140.8 493.6 142 490 C143.2 486.4 144 483.2 145.3 478.4 C146.6 473.6 148.4 465.1 149.6 461 C150.8 456.9 151.6 458.1 152.5 453.6 C153.4 449.1 154.1 440.3 155.2 434 C156.3 427.7 157.7 421.5 159 416 C160.3 410.5 161.7 405.2 162.9 401 C164.1 396.8 165.3 392.9 166.2 390.7 C167 388.5 167.3 387.6 168 388 C168.7 388.4 169.7 389.9 170.5 393.3 C171.3 396.7 172.3 401.7 173 408.5 C173.7 415.3 174.2 425.9 174.8 434 C175.5 442.1 176.2 449.7 176.9 456.9 C177.6 464.1 178.1 469.1 178.9 477.2 C179.8 485.3 181.3 496.4 182 505.4 C182.7 514.4 182.7 520.3 183.2 530.9 C183.7 541.5 184.5 556.3 185 569 C185.5 581.7 185.9 591.8 186.2 607 C186.5 622.2 186.6 660 186.8 660 C187 660 187.1 622.2 187.6 607 C188.1 591.8 188.9 579.6 189.6 569 C190.3 558.4 191 552.1 191.6 543.6 C192.2 535.1 192.7 526.2 193.4 518.2 C194.1 510.2 195.1 501.2 196 495.3 C196.9 489.4 197.7 487.5 199 483 C200.3 478.5 202.2 472.6 203.8 468.5 C205.5 464.4 207 460.8 208.9 458.3 C210.8 455.8 213 455 215.3 453.3 C217.6 451.6 220 450.1 222.9 448.2 C225.8 446.3 229.6 443.5 233 441.8 C236.4 440.1 240.3 438.9 243.3 438 C246.3 437.1 248.4 436.3 250.9 436.7 C253.4 437.1 255.9 439 258.5 440.5 C261.1 442 263.6 443.9 266.2 445.6 C268.8 447.3 271.3 449.4 273.8 450.7 C276.3 452 278.9 452.8 281.4 453.3 C283.9 453.8 286.5 454 289 453.8 C291.5 453.6 293.6 453.4 296.2 452 C298.8 450.6 301.9 447.7 304.3 445.6 C306.7 443.5 308.8 440.8 310.7 439.3 C312.6 437.8 313.9 436.3 315.8 436.7 C317.7 437.1 320 439.7 322.1 441.8 C324.2 443.9 326.4 446.5 328.5 449.4 C330.6 452.3 332.6 455.8 335 459 C337.4 462.2 339.7 465.2 342.7 468.5 C345.7 471.8 349.9 475.3 352.9 478.7 C355.9 482.1 358.2 486.3 360.5 488.9 C362.8 491.4 364.6 493.1 366.9 494 C369.2 494.9 372.2 494.4 374.5 494 C376.8 493.6 378.8 493.1 380.9 491.4 C383 489.7 385.1 487.2 387.2 483.8 C389.3 480.4 390.8 476.1 393.6 471 C396.4 465.9 400.8 458 403.8 453.3 C406.8 448.6 408.9 445.6 411.4 443 C413.9 440.4 416.4 438.9 419 438 C421.6 437.1 424.1 436.7 426.7 437.5 C429.2 438.3 432 440.6 434.3 443 C436.6 445.4 438.6 448.4 440.7 452 C442.8 455.6 444.9 460.7 447 464.7 C449.1 468.7 451.5 473.8 453.4 476.2 C455.3 478.6 456.8 479.1 458.5 479.2 C460.2 479.2 461.9 477.9 463.6 476.5 C465.3 475.1 466.8 473.2 468.5 471 C470.2 468.8 471.7 465.7 473.6 463.4 C475.5 461.1 477.9 458.3 480 457 C482.1 455.7 484 455.9 486.3 455.8 C488.6 455.7 491 455.9 494 456.3 C497 456.7 501.1 457.8 504.1 458.3 C507.1 458.9 508.8 459 511.8 459.6 C514.8 460.2 518.8 461.1 522 462 C525.2 462.9 529.5 464.2 531 464.7" fill="none" stroke="#808000" stroke-width="1.55" stroke-dasharray="5.6 3 1.5 3"/>
<polygon points="82.5,420 73.8,415.1 73.8,424.9" fill="#808000"/>
<polygon points="155,461 146.4,456.1 146.4,465.9" fill="#808000"/>
<polygon points="227.4,448.7 218.8,443.8 218.8,453.6" fill="#808000"/>
<polygon points="300.4,452 291.8,447.1 291.8,456.9" fill="#808000"/>
<polygon points="372.4,492.7 363.8,487.8 363.8,497.6" fill="#808000"/>
<polygon points="444.9,451 436.3,446.1 436.3,455.9" fill="#808000"/>
<polygon points="517.1,458.3 508.4,453.4 508.4,463.2" fill="#808000"/>
<path d="M78 469.6 C78.3 474.7 79.3 484.9 80 500 C80.7 515.1 81.3 538 82 560 C82.7 582 83.6 632 84.3 632 C85 632 85.7 578.7 86.3 560 C86.9 541.3 87.4 531.3 88 520 C88.6 508.7 89.2 500.3 90 492 C90.8 483.7 91.9 476.2 93 470 C94.1 463.8 95.4 460.7 96.5 455 C97.6 449.3 98.4 440.7 99.5 436 C100.6 431.3 101.4 429.9 103 427 C104.6 424.1 107.5 422 108.9 418.7 C110.3 415.4 110.7 410 111.5 407 C112.3 404 113 401.7 113.8 400.5 C114.6 399.3 115.5 399.3 116.5 400 C117.5 400.7 118.8 400.5 119.6 404.7 C120.3 408.9 120.6 418.9 121 425 C121.4 431.1 121.8 435.9 122.2 441.6 C122.6 447.3 123 453.9 123.4 459.4 C123.8 464.9 124.3 468.4 124.7 474.7 C125.1 481 125.5 489.4 126 497 C126.5 504.6 126.9 514 127.5 520 C128.1 526 128.8 531.7 129.5 533 C130.2 534.3 131.1 530.2 132 528 C132.9 525.8 133.8 523.3 135.1 520 C136.4 516.7 138.1 512.8 140 508 C141.9 503.2 145 497.4 146.7 491.5 C148.4 485.6 149.3 477.7 150.4 472.5 C151.5 467.3 152.3 466.6 153.3 460.2 C154.3 453.8 155.1 442.6 156.5 434 C157.9 425.4 160.1 415.3 161.6 408.5 C163.1 401.7 164.4 396.3 165.4 393.3 C166.4 390.3 166.7 390.1 167.5 390.5 C168.3 390.9 169.6 392.8 170.5 395.8 C171.4 398.8 172.2 402.1 173 408.5 C173.8 414.9 174.3 425.8 175 434 C175.7 442.2 176.2 450.3 177 458 C177.8 465.7 178.6 471.7 179.5 480 C180.4 488.3 181.7 502 182.5 508 C183.3 514 183.7 517.8 184.5 516 C185.3 514.2 186.6 502.5 187.5 497 C188.4 491.5 188.9 487.2 190 483 C191.1 478.8 192.3 475.9 194 472 C195.7 468.1 198.2 463.2 200 459.6 C201.8 456.1 202.9 453.2 205 450.7 C207.1 448.2 209.8 445.9 212.7 444.4 C215.6 442.9 219 442.6 222.4 441.8 C225.8 441 229.9 440.2 233 439.3 C236.1 438.4 238.1 437.4 240.7 436.7 C243.2 436 245.3 435.2 248.3 435.4 C251.3 435.6 255.5 437.1 258.5 438 C261.5 438.9 263.2 439.7 266.2 440.5 C269.2 441.3 272.9 442.2 276.3 442.6 C279.7 443 283.3 443.1 286.5 443 C289.7 442.9 292.4 442.9 295.4 441.8 C298.4 440.8 301.5 438.4 304.3 436.7 C307.1 435 310.1 432.7 312 431.6 C313.9 430.6 313.7 429.8 315.8 430.4 C317.9 431 321.9 433.3 324.7 435.4 C327.4 437.5 330.1 440.4 332.3 443 C334.5 445.6 335.4 447.3 337.6 450.7 C339.8 454.1 342.8 459.6 345.3 463.4 C347.9 467.2 350.6 470.6 352.9 473.6 C355.2 476.6 356.8 478.3 359.3 481.2 C361.8 484.1 365.2 489.2 367.7 490.9 C370.2 492.6 372.3 491.7 374.5 491.4 C376.7 491.1 379 490.2 380.9 488.9 C382.8 487.6 384.3 486.4 386 483.8 C387.7 481.2 389 477.9 391.1 473.6 C393.2 469.4 396.2 462.5 398.7 458.3 C401.2 454.1 403.3 451.6 406.3 448.2 C409.3 444.8 413.3 440.1 416.5 438 C419.7 435.9 422.4 434.8 425.4 435.4 C428.4 436 431.8 439.5 434.3 441.8 C436.9 444.1 438.4 445.8 440.7 449.4 C443 453 446 458.9 448.3 463.4 C450.6 467.9 452.8 473 454.7 476.2 C456.6 479.4 458.1 482.1 459.8 482.5 C461.5 482.9 463.2 480.6 464.9 478.7 C466.6 476.8 468.6 472.9 470 471 C471.4 469.1 472.2 469.1 473.6 467.2 C475.1 465.3 476.6 461.9 478.7 459.6 C480.8 457.3 483.8 454.6 486.3 453.3 C488.9 452 491 452.2 494 452 C497 451.8 500.9 451.9 504.1 452 C507.3 452.1 510 452.3 513 452.7 C516 453.1 519 453.8 522 454.5 C525 455.2 529.5 456.6 531 457" fill="none" stroke="#000080" stroke-width="0.9" stroke-dasharray="1.4 6.5" stroke-dashoffset="-0.2"/>
<polygon points="77.5,464.4 82.7,469.6 77.5,474.8 72.3,469.6" fill="#000080"/>
<polygon points="111.5,398.8 116.7,404 111.5,409.2 106.3,404" fill="#000080"/>
<polygon points="145.6,493.2 150.8,498.4 145.6,503.6 140.4,498.4" fill="#000080"/>
<polygon points="179.6,479.2 184.8,484.4 179.6,489.6 174.4,484.4" fill="#000080"/>
<polygon points="213.7,443.1 218.9,448.3 213.7,453.5 208.5,448.3" fill="#000080"/>
<polygon points="247.7,432.1 252.9,437.3 247.7,442.5 242.5,437.3" fill="#000080"/>
<polygon points="281.7,438.4 286.9,443.6 281.7,448.8 276.5,443.6" fill="#000080"/>
<polygon points="315.8,425.8 321,431 315.8,436.2 310.6,431" fill="#000080"/>
<polygon points="349.8,461.4 355,466.6 349.8,471.8 344.6,466.6" fill="#000080"/>
<polygon points="383.9,479.2 389.1,484.4 383.9,489.6 378.7,484.4" fill="#000080"/>
<polygon points="417.9,435.4 423.1,440.6 417.9,445.8 412.7,440.6" fill="#000080"/>
<polygon points="451.9,469.2 457.1,474.4 451.9,479.6 446.7,474.4" fill="#000080"/>
<polygon points="486,452 491.2,457.2 486,462.4 480.8,457.2" fill="#000080"/>
<polygon points="520,448.7 525.2,453.9 520,459.1 514.8,453.9" fill="#000080"/>
<path d="M78 447.5 C79.2 447.7 82.7 448.1 85 448.5 C87.3 448.9 90 449.2 92 450 C94 450.8 95.7 451.3 97 453 C98.3 454.7 98.4 456.7 100 460 C101.6 463.3 105 469.7 106.7 473 C108.4 476.3 109.4 476.7 110.4 480 C111.4 483.3 111.9 484.7 112.5 493 C113.1 501.3 113.5 515.2 114 530 C114.5 544.8 115 577 115.6 582 C116.2 587 116.8 570.3 117.5 560 C118.2 549.7 118.9 530.3 120 520 C121.1 509.7 122.7 502.7 124 498 C125.3 493.3 126.7 492.7 128 492 C129.3 491.3 130.6 492.9 132 494 C133.4 495.1 134.9 495.3 136.7 498.3 C138.4 501.3 140.5 507 142.5 511.8 C144.5 516.6 147 522.5 148.9 527 C150.8 531.5 152.3 534.9 154 538.5 C155.7 542.1 157.1 546.2 159 548.7 C160.9 551.2 163.5 554.6 165.4 553.8 C167.3 552.9 169 547.4 170.5 543.6 C172 539.8 172.8 533.5 174.3 531 C175.8 528.5 177.7 528.5 179.4 528.3 C181.1 528.1 182.8 529 184.5 529.6 C186.2 530.2 187.8 531.1 189.6 532 C191.4 532.9 193.1 534.4 195.2 534.7 C197.3 535 199.4 534.6 202.3 534 C205.2 533.4 208.8 531.5 212.7 530.9 C216.5 530.3 221.2 529.9 225.4 530.4 C229.7 530.9 235 532.3 238.2 533.9 C241.4 535.5 241.9 537.8 244.5 539.8 C247.1 541.8 250.6 545 254 545.6 C257.4 546.2 261.8 545.1 264.9 543.6 C268 542.1 269.9 539.3 272.5 536.5 C275.1 533.7 277.6 529.6 280.2 527 C282.8 524.4 285.3 522 287.8 520.7 C290.3 519.4 293.1 519.2 295.4 519.4 C297.7 519.6 299.7 520.3 301.8 522 C303.9 523.7 306.1 527.4 308.1 529.6 C310.1 531.9 312 535.9 313.7 535.5 C315.4 535.1 316.5 529.9 318.3 527 C320.1 524.1 322.3 520.3 324.7 518.2 C327.1 516.1 329 514.7 332.7 514.2 C336.4 513.7 342.9 514.8 346.7 515.4 C350.5 516 353.1 516.7 355.6 518 C358.2 519.3 359.2 520.9 362 523 C364.8 525.1 368.8 527.5 372.2 530.7 C375.6 533.9 379.6 538.8 382.3 542.2 C385.1 545.6 386.8 548.2 388.7 551 C390.6 553.8 392.5 556.4 393.8 558.7 C395.1 561 395.2 562.7 396.3 565 C397.4 567.3 398.7 569.1 400.2 572.7 C401.7 576.3 403.9 583.1 405.2 586.7 C406.5 590.3 406.9 591.8 407.8 594.3 C408.7 596.8 409.2 599.7 410.3 602 C411.4 604.3 412.4 606.6 414.1 608.3 C415.8 610 417.6 612.4 420.5 612 C423.4 611.6 428.2 606 431.2 606 C434.2 606 436.1 610.6 438.3 612.1 C440.6 613.6 442.8 615.6 444.7 615 C446.6 614.4 448.1 610.9 449.8 608.3 C451.5 605.7 453.4 603 454.9 599.4 C456.4 595.8 457.2 590.3 458.7 586.7 C460.2 583.1 462.1 580.6 463.7 578 C465.3 575.4 466.5 572.8 468.5 570.9 C470.5 569 473.2 567.8 475.6 566.7 C478 565.6 480.1 564.3 482.6 564.3 C485.1 564.3 487.8 565.4 490.4 566.5 C493 567.6 495.8 569.2 498 570.9 C500.2 572.6 501.9 574.8 503.9 576.8 C505.9 578.8 508 580.5 509.8 582.7 C511.6 584.9 513 587.4 514.6 589.8 C516.2 592.2 517.7 594.5 519.3 596.9 C520.9 599.3 522.5 601.7 524 604 C525.5 606.3 527.1 608.8 528.3 610.6 C529.5 612.4 530.5 614.3 531 615" fill="none" stroke="#800000" stroke-width="1.8" stroke-dasharray="1.8 6.1"/>
<polygon points="78,442.5 82.8,446 80.9,451.5 75.1,451.5 73.2,446" fill="#800000"/>
<polygon points="137,493.3 141.8,496.8 139.9,502.3 134.1,502.3 132.2,496.8" fill="#800000"/>
<polygon points="195.5,529.7 200.3,533.2 198.4,538.7 192.6,538.7 190.7,533.2" fill="#800000"/>
<polygon points="254,540 258.8,543.5 256.9,549 251.1,549 249.2,543.5" fill="#800000"/>
<polygon points="313.7,533.5 318.5,537 316.6,542.5 310.8,542.5 308.9,537" fill="#800000"/>
<polygon points="372.2,526 377,529.5 375.1,535 369.3,535 367.4,529.5" fill="#800000"/>
<polygon points="431.3,599.5 436.1,603 434.2,608.5 428.4,608.5 426.5,603" fill="#800000"/>
<polygon points="490.4,563 495.2,566.5 493.3,572 487.5,572 485.6,566.5" fill="#800000"/>
<path d="M78 469.6 C78.3 474.7 79.3 484.9 80 500 C80.7 515.1 81.3 538 82 560 C82.7 582 83.6 632 84.3 632 C85 632 85.7 578.7 86.3 560 C86.9 541.3 87.4 531.3 88 520 C88.6 508.7 89.2 500.3 90 492 C90.8 483.7 91.9 476.2 93 470 C94.1 463.8 95.4 460.7 96.5 455 C97.6 449.3 98.4 440.7 99.5 436 C100.6 431.3 101.4 429.9 103 427 C104.6 424.1 107.5 422 108.9 418.7 C110.3 415.4 110.7 410 111.5 407 C112.3 404 113 401.7 113.8 400.5 C114.6 399.3 115.5 399.3 116.5 400 C117.5 400.7 118.8 400.5 119.6 404.7 C120.3 408.9 120.6 418.9 121 425 C121.4 431.1 121.8 435.9 122.2 441.6 C122.6 447.3 123 453.9 123.4 459.4 C123.8 464.9 124.3 468.4 124.7 474.7 C125.1 481 125.5 489.4 126 497 C126.5 504.6 126.9 514 127.5 520 C128.1 526 128.8 531.7 129.5 533 C130.2 534.3 131.1 530.2 132 528 C132.9 525.8 133.8 523.3 135.1 520 C136.4 516.7 138.1 512.8 140 508 C141.9 503.2 145 497.4 146.7 491.5 C148.4 485.6 149.3 477.7 150.4 472.5 C151.5 467.3 152.3 466.6 153.3 460.2 C154.3 453.8 155.1 442.6 156.5 434 C157.9 425.4 160.1 415.3 161.6 408.5 C163.1 401.7 164.4 396.3 165.4 393.3 C166.4 390.3 166.7 390.1 167.5 390.5 C168.3 390.9 169.6 392.8 170.5 395.8 C171.4 398.8 172.2 402.1 173 408.5 C173.8 414.9 174.3 425.8 175 434 C175.7 442.2 176.2 450.3 177 458 C177.8 465.7 178.6 471.7 179.5 480 C180.4 488.3 181.7 502 182.5 508 C183.3 514 183.7 517.8 184.5 516 C185.3 514.2 186.6 502.5 187.5 497 C188.4 491.5 188.9 487.2 190 483 C191.1 478.8 192.3 475.9 194 472 C195.7 468.1 198.2 463.2 200 459.6 C201.8 456.1 202.9 453.2 205 450.7 C207.1 448.2 209.8 445.9 212.7 444.4 C215.6 442.9 219 442.6 222.4 441.8 C225.8 441 229.9 440.2 233 439.3 C236.1 438.4 238.1 437.4 240.7 436.7 C243.2 436 245.3 435.2 248.3 435.4 C251.3 435.6 255.5 437.1 258.5 438 C261.5 438.9 263.2 439.7 266.2 440.5 C269.2 441.3 272.9 442.2 276.3 442.6 C279.7 443 283.3 443.1 286.5 443 C289.7 442.9 292.4 442.9 295.4 441.8 C298.4 440.8 301.5 438.4 304.3 436.7 C307.1 435 310.1 432.7 312 431.6 C313.9 430.6 313.7 429.8 315.8 430.4 C317.9 431 321.9 433.3 324.7 435.4 C327.4 437.5 330.1 440.4 332.3 443 C334.5 445.6 335.4 447.3 337.6 450.7 C339.8 454.1 342.8 459.6 345.3 463.4 C347.9 467.2 350.6 470.6 352.9 473.6 C355.2 476.6 356.8 478.3 359.3 481.2 C361.8 484.1 365.2 489.2 367.7 490.9 C370.2 492.6 372.3 491.7 374.5 491.4 C376.7 491.1 379 490.2 380.9 488.9 C382.8 487.6 384.3 486.4 386 483.8 C387.7 481.2 389 477.9 391.1 473.6 C393.2 469.4 396.2 462.5 398.7 458.3 C401.2 454.1 403.3 451.6 406.3 448.2 C409.3 444.8 413.3 440.1 416.5 438 C419.7 435.9 422.4 434.8 425.4 435.4 C428.4 436 431.8 439.5 434.3 441.8 C436.9 444.1 438.4 445.8 440.7 449.4 C443 453 446 458.9 448.3 463.4 C450.6 467.9 452.8 473 454.7 476.2 C456.6 479.4 458.1 482.1 459.8 482.5 C461.5 482.9 463.2 480.6 464.9 478.7 C466.6 476.8 468.6 472.9 470 471 C471.4 469.1 472.2 469.1 473.6 467.2 C475.1 465.3 476.6 461.9 478.7 459.6 C480.8 457.3 483.8 454.6 486.3 453.3 C488.9 452 491 452.2 494 452 C497 451.8 500.9 451.9 504.1 452 C507.3 452.1 510 452.3 513 452.7 C516 453.1 519 453.8 522 454.5 C525 455.2 529.5 456.6 531 457" fill="none" stroke="#f0283c" stroke-width="1.8" stroke-dasharray="1.8 6.1"/>
<polygon points="82,469.6 79.8,473.5 75.2,473.5 73,469.6 75.2,465.7 79.8,465.7" fill="#f0283c"/>
<polygon points="154.6,472.5 152.3,476.4 147.8,476.4 145.6,472.5 147.8,468.6 152.3,468.6" fill="#f0283c"/>
<polygon points="227,441.8 224.8,445.7 220.2,445.7 218,441.8 220.2,437.9 224.8,437.9" fill="#f0283c"/>
<polygon points="300,441.8 297.8,445.7 293.2,445.7 291,441.8 293.2,437.9 297.8,437.9" fill="#f0283c"/>
<polygon points="372,490.9 369.8,494.8 365.2,494.8 363,490.9 365.2,487 369.8,487" fill="#f0283c"/>
<polygon points="444.5,450.2 442.2,454.1 437.8,454.1 435.5,450.2 437.8,446.3 442.2,446.3" fill="#f0283c"/>
<polygon points="516.6,452.7 514.4,456.6 509.9,456.6 507.6,452.7 509.9,448.8 514.4,448.8" fill="#f0283c"/>
</g>
<rect x="78.0" y="358.5" width="453.0" height="370.0" fill="none" stroke="#000" stroke-width="1.6"/>
<path d="M78 358.5H70.2M78 377H74.1M78 395.5H70.2M78 414H74.1M78 432.5H70.2M78 451H74.1M78 469.5H70.2M78 488H74.1M78 506.5H70.2M78 525H74.1M78 543.5H70.2M78 562H74.1M78 580.5H70.2M78 599H74.1M78 617.5H70.2M78 636H74.1M78 654.5H70.2M78 673H74.1M78 691.5H70.2M78 710H74.1M78 728.5H70.2M78 728.5V735.3M103.2 728.5V732.3M128.3 728.5V735.3M153.5 728.5V732.3M178.7 728.5V735.3M203.8 728.5V732.3M229 728.5V735.3M254.2 728.5V732.3M279.3 728.5V735.3M304.5 728.5V732.3M329.7 728.5V735.3M354.8 728.5V732.3M380 728.5V735.3M405.2 728.5V732.3M430.3 728.5V735.3M455.5 728.5V732.3M480.7 728.5V735.3M505.8 728.5V732.3M531 728.5V735.3" stroke="#000" stroke-width="1.6" fill="none"/>
<g class="b" font-size="18.3" font-weight="bold" fill="#000">
<text x="66.5" y="364.7" text-anchor="end">0</text>
<text x="66.5" y="401.7" text-anchor="end"><tspan letter-spacing="1.7">–</tspan>5</text>
<text x="66.5" y="438.7" text-anchor="end"><tspan letter-spacing="1.7">–</tspan>10</text>
<text x="66.5" y="475.7" text-anchor="end"><tspan letter-spacing="1.7">–</tspan>15</text>
<text x="66.5" y="512.7" text-anchor="end"><tspan letter-spacing="1.7">–</tspan>20</text>
<text x="66.5" y="549.7" text-anchor="end"><tspan letter-spacing="1.7">–</tspan>25</text>
<text x="66.5" y="586.7" text-anchor="end"><tspan letter-spacing="1.7">–</tspan>30</text>
<text x="66.5" y="623.7" text-anchor="end"><tspan letter-spacing="1.7">–</tspan>35</text>
<text x="66.5" y="660.7" text-anchor="end"><tspan letter-spacing="1.7">–</tspan>40</text>
<text x="66.5" y="697.7" text-anchor="end"><tspan letter-spacing="1.7">–</tspan>45</text>
<text x="66.5" y="734.7" text-anchor="end"><tspan letter-spacing="1.7">–</tspan>50</text>
<text x="78" y="755" text-anchor="middle">2</text>
<text x="128.3" y="755" text-anchor="middle">4</text>
<text x="178.7" y="755" text-anchor="middle">6</text>
<text x="229" y="755" text-anchor="middle">8</text>
<text x="279.3" y="755" text-anchor="middle">10</text>
<text x="329.7" y="755" text-anchor="middle">12</text>
<text x="380" y="755" text-anchor="middle">14</text>
<text x="430.3" y="755" text-anchor="middle">16</text>
<text x="480.7" y="755" text-anchor="middle">18</text>
<text x="531" y="755" text-anchor="middle">20</text>
</g>
<text class="b" font-size="18.5" font-weight="bold" x="305" y="786" text-anchor="middle">Frequency (GHz)</text>
<text class="b" font-size="18.7" font-weight="bold" transform="translate(23.8 557) rotate(-90)" text-anchor="middle">S-parameter (dB)</text>
<rect x="178.5" y="632" width="347" height="91" fill="#fff" stroke="#a0a0a0" stroke-width="1.2"/>
<g font-size="18.5" font-weight="bold" fill="#000">
<text x="225.5" y="649.5">Simulated results</text>
<text x="225.5" y="673">S11,</text>
<text x="307" y="673">S22,</text>
<text x="388.5" y="673" xml:space="preserve">S21 at r =  0 mm</text>
<text x="225.5" y="695.8">S11,</text>
<text x="307" y="695.8">S21,</text>
<text x="388.5" y="695.8" xml:space="preserve">S22 at r = 10 mm</text>
<text x="225.5" y="718.3">S11,</text>
<text x="307" y="718.3">S21,</text>
<text x="388.5" y="718.3" xml:space="preserve">S22 at r = 20 mm</text>
</g>
<line x1="181.5" y1="666.8" x2="221" y2="666.8" stroke="#000000" stroke-width="1.7"/>
<rect x="198.3" y="663.1" width="7.4" height="7.4" fill="#000000"/>
<line x1="264" y1="666.8" x2="302.5" y2="666.8" stroke="#0000ff" stroke-width="1.7"/>
<polygon points="283.5,661.8 288.4,670.5 278.6,670.5" fill="#0000ff"/>
<line x1="345" y1="666.8" x2="382.5" y2="666.8" stroke="#ff0000" stroke-width="1.7"/>
<circle cx="363.7" cy="666.8" r="4.1" fill="#ff0000"/>
<line x1="181.5" y1="690" x2="221" y2="690" stroke="#008080" stroke-width="1.7" stroke-dasharray="6 4"/>
<polygon points="202,695 206.9,686.3 197.1,686.3" fill="#008080"/>
<line x1="264" y1="690" x2="302.5" y2="690" stroke="#ff00ff" stroke-width="1.7" stroke-dasharray="6.5 4.5"/>
<polygon points="278.6,690 287.2,685 287.2,695" fill="#ff00ff"/>
<line x1="345" y1="690" x2="382.5" y2="690" stroke="#808000" stroke-width="1.7" stroke-dasharray="5.6 3 1.5 3"/>
<polygon points="368.6,690 360,685 360,695" fill="#808000"/>
<line x1="181.5" y1="712.6" x2="221" y2="712.6" stroke="#000080" stroke-width="1.7" stroke-dasharray="1.8 6.1"/>
<polygon points="202,707.4 207.2,712.6 202,717.8 196.8,712.6" fill="#000080"/>
<line x1="264" y1="712.6" x2="302.5" y2="712.6" stroke="#800000" stroke-width="1.7" stroke-dasharray="1.8 6.1"/>
<polygon points="283.5,707.6 288.3,711.1 286.4,716.6 280.6,716.6 278.7,711.1" fill="#800000"/>
<line x1="345" y1="712.6" x2="382.5" y2="712.6" stroke="#f0283c" stroke-width="1.7" stroke-dasharray="1.8 6.1"/>
<polygon points="368.2,712.6 365.9,716.5 361.4,716.5 359.2,712.6 361.4,708.7 365.9,708.7" fill="#f0283c"/>
<text x="275" y="817" font-size="20" text-anchor="middle">(<tspan font-weight="bold">b</tspan>)</text>
</g>
</svg>
</body></html>
